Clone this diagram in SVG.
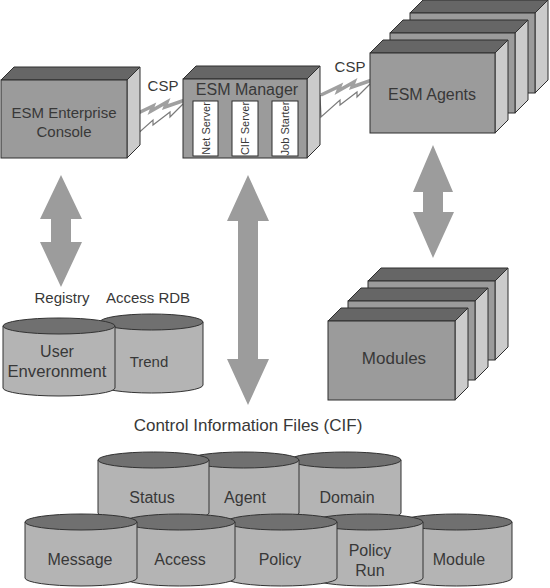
<svg xmlns="http://www.w3.org/2000/svg" width="550" height="588" viewBox="0 0 550 588">
<style>
text{font-family:"Liberation Sans",Arial,sans-serif;fill:#383838;text-anchor:middle}
.t15{font-size:15px}
.t16{font-size:16px}
.t17{font-size:17px}
.t11{font-size:11px}
.front{fill:#9b9b9b;stroke:#2e2e2e;stroke-width:1}
.top{fill:#666;stroke:#2e2e2e;stroke-width:1}
.side{fill:#cbcbcb;stroke:#2e2e2e;stroke-width:1}
.panel{fill:#fff;stroke:#2e2e2e;stroke-width:1}
.body{fill:#b4b4b4;stroke:#333;stroke-width:1}
.lid{fill:#707070;stroke:#333;stroke-width:1}
.arrow{fill:#9c9c9c}
.bolt{fill:#fff;stroke:#7a7a7a;stroke-width:1.2;stroke-linejoin:miter}
.boltTop{fill:none;stroke:#a0a0a0;stroke-width:3.5;stroke-linejoin:miter}
</style>
<defs>
<g id="bolt">
<polygon class="bolt" points="0,18 20,8 18,13 34,4 32,9 56,0 37,19 37,14 20,27 20,22 1,39"/>
<polyline class="boltTop" points="1,17 20,8 18,13 34,4 32,9 55,1"/>
</g>
</defs>

<g id="connectors">
<path class="arrow" d="M61,175 L82,219 L71,219 L71,242 L82,242 L61,287 L40,242 L51,242 L51,219 L40,219 Z"/>
<path class="arrow" d="M248,175 L269,221 L258,221 L258,359 L269,359 L248,405 L227,359 L238,359 L238,221 L227,221 Z"/>
<path class="arrow" d="M433,145 L453,192 L443,192 L443,212 L454,212 L433,258 L413,212 L423,212 L423,192 L413,192 Z"/>
<use href="#bolt" x="133" y="98"/>
<use href="#bolt" x="320" y="78"/>
</g>

<g id="console">
<polygon class="top" points="1,80 14,67 140,67 127,80"/>
<polygon class="side" points="127,80 140,67 140,145 127,158"/>
<rect class="front" x="1" y="80" width="126" height="78"/>
<text class="t15" x="64" y="118">ESM Enterprise</text>
<text class="t15" x="64" y="137">Console</text>
</g>
<text class="t15" x="163" y="91">CSP</text>

<g id="manager">
<polygon class="top" points="183,79 196,66 320,66 307,79"/>
<polygon class="side" points="307,79 320,66 320,145 307,158"/>
<rect class="front" x="183" y="79" width="124" height="79"/>
<text class="t16" x="247" y="95">ESM Manager</text>
<rect class="panel" x="193" y="101" width="25" height="55"/>
<rect class="panel" x="232" y="101" width="26" height="55"/>
<rect class="panel" x="272" y="101" width="26" height="55"/>
<text class="t11" transform="translate(209.5,128.5) rotate(-90)">Net Server</text>
<text class="t11" transform="translate(249,128.5) rotate(-90)">CIF Server</text>
<text class="t11" transform="translate(289,128.5) rotate(-90)">Job Starter</text>
</g>
<text class="t15" x="350" y="72">CSP</text>

<g id="agents">
<polygon class="top" points="410,13 423,0 548,0 535,13"/>
<polygon class="side" points="535,13 548,0 548,80 535,93"/>
<rect class="front" x="410" y="13" width="125" height="80"/>
<polygon class="top" points="390,33 403,20 528,20 515,33"/>
<polygon class="side" points="515,33 528,20 528,100 515,113"/>
<rect class="front" x="390" y="33" width="125" height="80"/>
<polygon class="top" points="370,53 383,40 508,40 495,53"/>
<polygon class="side" points="495,53 508,40 508,120 495,133"/>
<rect class="front" x="370" y="53" width="125" height="80"/>
<text class="t16" x="432" y="100">ESM Agents</text>
</g>

<g id="modules">
<polygon class="top" points="368,281 381,268 508,268 495,281"/>
<polygon class="side" points="495,281 508,268 508,347 495,360"/>
<rect class="front" x="368" y="281" width="127" height="79"/>
<polygon class="top" points="348,301 361,288 488,288 475,301"/>
<polygon class="side" points="475,301 488,288 488,367 475,380"/>
<rect class="front" x="348" y="301" width="127" height="79"/>
<polygon class="top" points="328,321 341,308 468,308 455,321"/>
<polygon class="side" points="455,321 468,308 468,387 455,400"/>
<rect class="front" x="328" y="321" width="127" height="79"/>
<text class="t17" x="394" y="364">Modules</text>
</g>

<text class="t15" x="62" y="303">Registry</text>
<text class="t15" x="148" y="303">Access RDB</text>

<g id="trend">
<path class="body" d="M100,322 V385 A51.5,8 0 0 0 203,385 V322 Z"/>
<ellipse class="lid" cx="151.5" cy="322" rx="51.5" ry="8"/>
<text class="t15" x="149" y="367">Trend</text>
</g>
<g id="user-env">
<path class="body" d="M3,326 V388 A56,8 0 0 0 115,388 V326 Z"/>
<ellipse class="lid" cx="59" cy="326" rx="56" ry="8"/>
<text class="t16" x="57" y="357">User</text>
<text class="t16" x="57" y="377" textLength="99" lengthAdjust="spacingAndGlyphs">Enveronment</text>
</g>

<text class="t17" x="248" y="431">Control Information Files (CIF)</text>

<g id="domain">
<path class="body" d="M290,460 V513 A55.5,8 0 0 0 401,513 V460 Z"/>
<ellipse class="lid" cx="345.5" cy="460" rx="55.5" ry="8"/>
<text class="t16" x="347" y="503">Domain</text>
</g>
<g id="agent">
<path class="body" d="M188,460 V513 A55.5,8 0 0 0 299,513 V460 Z"/>
<ellipse class="lid" cx="243.5" cy="460" rx="55.5" ry="8"/>
<text class="t16" x="245" y="503">Agent</text>
</g>
<g id="status">
<path class="body" d="M98,460 V513 A55.5,8 0 0 0 209,513 V460 Z"/>
<ellipse class="lid" cx="153.5" cy="460" rx="55.5" ry="8"/>
<text class="t16" x="152" y="503">Status</text>
</g>

<g id="module">
<path class="body" d="M401,522 V578 A55.5,8 0 0 0 512,578 V522 Z"/>
<ellipse class="lid" cx="456.5" cy="522" rx="55.5" ry="8"/>
<text class="t16" x="459" y="565">Module</text>
</g>
<g id="policy-run">
<path class="body" d="M312,522 V578 A55.5,8 0 0 0 423,578 V522 Z"/>
<ellipse class="lid" cx="367.5" cy="522" rx="55.5" ry="8"/>
<text class="t16" x="370" y="556">Policy</text>
<text class="t16" x="370" y="576">Run</text>
</g>
<g id="policy">
<path class="body" d="M226,522 V578 A55.5,8 0 0 0 337,578 V522 Z"/>
<ellipse class="lid" cx="281.5" cy="522" rx="55.5" ry="8"/>
<text class="t16" x="280" y="565">Policy</text>
</g>
<g id="access">
<path class="body" d="M124,522 V578 A55.5,8 0 0 0 235,578 V522 Z"/>
<ellipse class="lid" cx="179.5" cy="522" rx="55.5" ry="8"/>
<text class="t16" x="180" y="565">Access</text>
</g>
<g id="message">
<path class="body" d="M25,522 V578 A56,8 0 0 0 137,578 V522 Z"/>
<ellipse class="lid" cx="81" cy="522" rx="56" ry="8"/>
<text class="t16" x="80" y="565">Message</text>
</g>
</svg>
